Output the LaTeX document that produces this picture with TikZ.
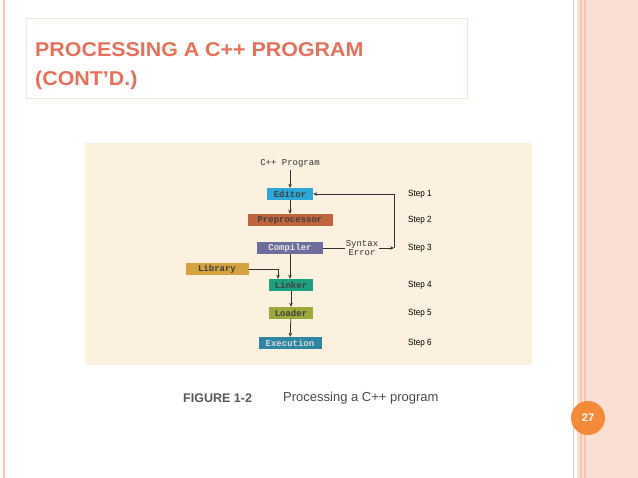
\documentclass[tikz,border=0pt]{standalone}
\usepackage{fontspec}
\setmainfont{Liberation Sans}
\setmonofont{Liberation Mono}
\usetikzlibrary{arrows.meta}
\definecolor{salmon}{HTML}{F7C4AE}
\definecolor{titlec}{HTML}{E8705A}
\definecolor{cream}{HTML}{FBF1DE}
\definecolor{cEd}{HTML}{2BA8D8}
\begin{document}
\begin{tikzpicture}[x=1pt,y=-1pt,
  box/.style={inner sep=0pt,minimum height=12pt,font=\ttfamily\fontsize{9}{9}\selectfont\bfseries,text=black!75},
  arr/.style={-{Stealth[length=4pt,width=3.5pt]},line width=0.8pt,draw=black!80},
  ln/.style={line width=0.8pt,draw=black!80},
  steplbl/.style={font=\fontsize{9}{9}\selectfont,anchor=west}]
\useasboundingbox (0,0) rectangle (638,478);
\fill[white] (0,0) rectangle (638,478);
% borders
\draw[salmon,line width=1.5pt] (4,0) -- (4,478);
\draw[salmon,line width=1pt] (573,0) -- (573,478);
\fill[salmon!55] (577,0) rectangle (638,478);
\draw[salmon,line width=1.2pt] (581,0) -- (581,478) (585,0) -- (585,478);
% title
\draw[salmon!50,line width=0.6pt] (26,18) rectangle (467,98);
\node[anchor=west,text=titlec,font=\fontsize{20}{20}\selectfont\bfseries,xscale=1.07,inner sep=0pt] (title) at (35,50) {PROCESSING A C++ PROGRAM};
\node[anchor=west,text=titlec,font=\fontsize{20}{20}\selectfont\bfseries,xscale=1.07,inner sep=0pt] (title2) at (35,80) {(CONT’D.)};
% figure
\fill[cream] (85,143) rectangle (532,365);
\node[font=\ttfamily\fontsize{9}{9}\selectfont,text=black!80] (prog) at (290,163) {C++ Program};
\node[box,fill=cEd,minimum width=46pt] (ed) at (290,194) {Editor};
\node[box,fill={rgb,255:red,192;green,100;blue,62},minimum width=85pt] (pre) at (290,220) {Preprocessor};
\node[box,fill={rgb,255:red,110;green,110;blue,158},minimum width=66pt,text=white!90!black] (comp) at (290,248) {Compiler};
\node[box,fill={rgb,255:red,212;green,162;blue,62},minimum width=63pt] (lib) at (217,269) {Library};
\node[box,fill={rgb,255:red,30;green,159;blue,130},minimum width=44pt] (link) at (291,285) {Linker};
\node[box,fill={rgb,255:red,155;green,169;blue,58},minimum width=44pt] (load) at (291,313) {Loader};
\node[box,fill={rgb,255:red,45;green,134;blue,162},minimum width=63pt,text=white!85!black] (exe) at (290,343) {Execution};
\node[font=\ttfamily\fontsize{9}{9}\selectfont,align=center,inner sep=1pt,text=black!80] (syn) at (362,248) {Syntax\\Error};
\coordinate (rc) at (394,248);
\coordinate (lk) at (278,269);
\draw[arr] (prog) -- (ed);
\draw[arr] (ed) -- (pre);
\draw[arr] (comp) -- (comp|-link.north);
\draw[arr] (link) -- (load);
\draw[arr] (load) -- (exe);
\draw[ln] (comp) -- (syn);
\draw[arr] (syn) -- (rc);
\draw[arr] (rc) -- (rc|-ed) -- (ed);
\draw[arr] (lib) -- (lk) -- (lk|-link.north);
\foreach \y/\t [count=\i] in {194/1,220/2,248/3,285/4,313/5,343/6}
  \node[steplbl,xscale=0.9] (s\i) at (405,\y) {Step \t};
% caption
\node[anchor=west,font=\fontsize{12.5}{12.5}\selectfont\bfseries,text=black!65,inner sep=0pt] (fig) at (183,398) {FIGURE 1-2};
\node[anchor=west,font=\fontsize{13}{13}\selectfont,text=black!70,inner sep=0pt] (cap) at (283,398) {Processing a C++ program};
% page number
\node[circle,fill={rgb,255:red,242;green,138;blue,58},minimum size=34pt,text=white,font=\fontsize{11}{11}\selectfont\bfseries,inner sep=0pt] (pg) at (588,418) {27};
\end{tikzpicture}
\end{document}
